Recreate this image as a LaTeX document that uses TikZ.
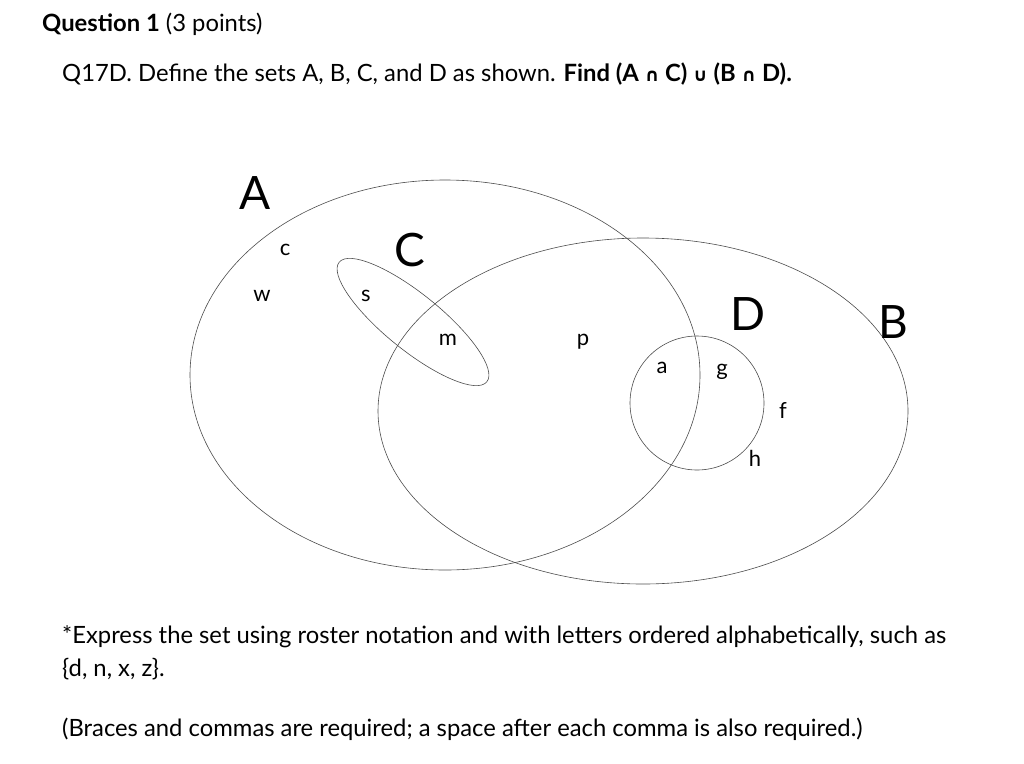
\documentclass[tikz,border=0pt]{standalone}
\usepackage{fontspec}
\setmainfont{Lato}
\newfontfamily\symf{DejaVu Sans}
\begin{document}
\begin{tikzpicture}[x=1pt,y=-1pt,
  txt/.style={anchor=base west,inner sep=0pt,font=\fontsize{23.8}{28}\selectfont},
  big/.style={inner sep=0pt,font=\fontsize{46}{50}\selectfont},
  sm/.style={inner sep=0pt,font=\fontsize{22}{26}\selectfont},
  setline/.style={draw=black!70,line width=0.6pt}]
\useasboundingbox (0,0) rectangle (1024,763);
\node[txt] (t1) at (42,31) {\textbf{Question 1} (3 points)};
\node[txt] (t2) at (62,81) {Q17D. Define the sets A, B, C, and D as shown. \textbf{Find (A {\symf\fontsize{18}{22}\selectfont ∩} C) {\symf\fontsize{18}{22}\selectfont ∪} (B {\symf\fontsize{18}{22}\selectfont ∩} D).}};
\draw[setline] (445,375) ellipse [x radius=255, y radius=195];
\draw[setline] (643,411) ellipse [x radius=265, y radius=173];
\draw[setline] (413,322) ellipse [x radius=95, y radius=28, rotate=-39];
\draw[setline] (697,403) circle [radius=67];
\node[big] (A) at (255,193) {A};
\node[big] (C) at (410,250) {C};
\node[big] (D) at (748,314) {D};
\node[big] (B) at (893,322) {B};
\node[sm] (c) at (285,250) {c};
\node[sm] (w) at (262,296) {w};
\node[sm] (s) at (366,296) {s};
\node[sm] (m) at (448,340) {m};
\node[sm] (p) at (583,342) {p};
\node[sm] (a) at (662,368) {a};
\node[sm] (g) at (722,372) {g};
\node[sm] (f) at (783,410) {f};
\node[sm] (h) at (755,458) {h};
\node[txt] (b1) at (62,643) {*Express the set using roster notation and with letters ordered alphabetically, such as};
\node[txt] (b2) at (62,676) {\{d, n, x, z\}.};
\node[txt] (b3) at (62,736) {(Braces and commas are required; a space after each comma is also required.)};
\end{tikzpicture}
\end{document}
